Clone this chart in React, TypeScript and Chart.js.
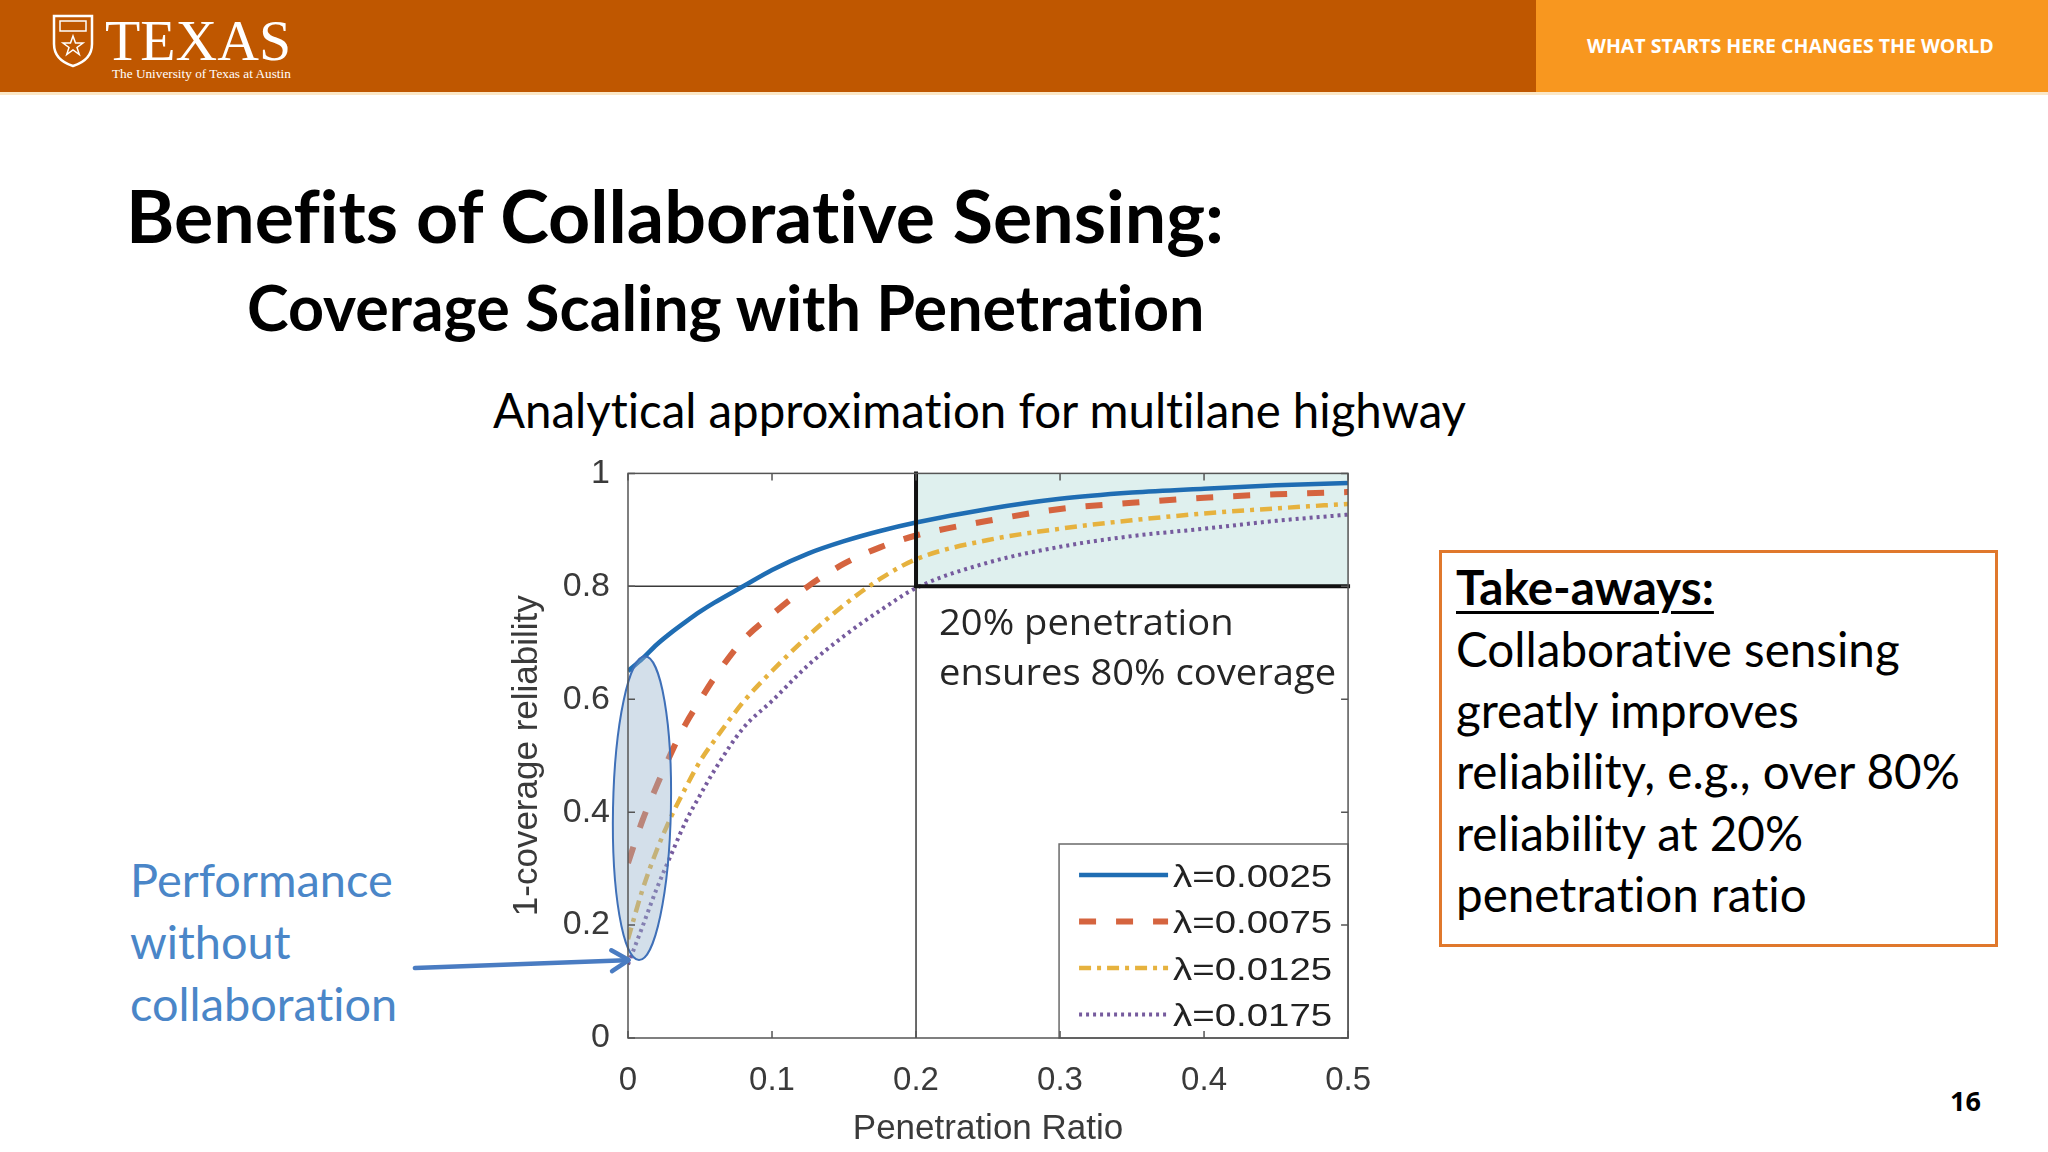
import React, { useEffect, useRef } from 'react';
import { Chart, registerables } from 'chart.js';

Chart.register(...registerables);

// ---------------- data ----------------
const PENETRATION = [0, 0.01, 0.02, 0.03, 0.04, 0.05, 0.06, 0.08, 0.1, 0.125, 0.15, 0.175, 0.2, 0.25, 0.3, 0.35, 0.4, 0.45, 0.5];
const LAMBDA_0025 = [0.65, 0.672, 0.697, 0.718, 0.737, 0.755, 0.771, 0.8, 0.829, 0.858, 0.88, 0.898, 0.913, 0.937, 0.955, 0.966, 0.973, 0.979, 0.983];
const LAMBDA_0075 = [0.31, 0.385, 0.447, 0.505, 0.556, 0.598, 0.638, 0.705, 0.75, 0.8, 0.84, 0.869, 0.89, 0.916, 0.937, 0.948, 0.957, 0.963, 0.967];
const LAMBDA_0125 = [0.175, 0.262, 0.333, 0.392, 0.443, 0.49, 0.527, 0.595, 0.65, 0.712, 0.767, 0.813, 0.848, 0.882, 0.902, 0.917, 0.929, 0.938, 0.946];
const LAMBDA_0175 = [0.13, 0.197, 0.265, 0.325, 0.383, 0.43, 0.474, 0.549, 0.597, 0.66, 0.712, 0.757, 0.797, 0.842, 0.87, 0.889, 0.902, 0.916, 0.927];
const SERIES_LABELS = ['λ=0.0025', 'λ=0.0075', 'λ=0.0125', 'λ=0.0175'];
const X_TICK_LABELS = ['0', '0.1', '0.2', '0.3', '0.4', '0.5'];
const Y_TICK_LABELS = ['0', '0.2', '0.4', '0.6', '0.8', '1'];
const X_TITLE = 'Penetration Ratio';
const Y_TITLE = '1-coverage reliability';

// highlighted region (penetration >= 20%, reliability >= 80%)
const REGION_X = [0.2, 0.5];
const REGION_Y = [0.8, 1];
const NOTE_LINES = ['20% penetration', 'ensures 80% coverage'];
const NOTE_ANCHOR = [0.216, 0.713, 0.625]; // x, baseline y of line 1, baseline y of line 2
// "no collaboration" callout (data coordinates)
const ELLIPSE = { cx: 0.0097, cy: 0.407, rx: 0.0201, ry: 0.269 };
const ARROW_FROM = [-0.148, 0.124];
const ARROW_TO = [0.0005, 0.138];

// ---------------- styles ----------------
const SERIES_STYLE = [
  { color: '#1F6DB3', width: 4.5, dash: [] as number[] },
  { color: '#D5643F', width: 6, dash: [17, 20] },
  { color: '#E6B23E', width: 4.5, dash: [12, 6, 4, 6] },
  { color: '#765B9E', width: 4, dash: [3, 4] },
];
const AXIS_TEXT = '#3a3a3a';
const AXIS_FONT = 'Liberation Sans';

let measureCtx: CanvasRenderingContext2D | null = null;
function measure(text: string, font: string) {
  if (!measureCtx) measureCtx = document.createElement('canvas').getContext('2d');
  measureCtx!.font = font;
  return measureCtx!.measureText(text);
}
function fitSize(text: string, family: string, weight: number, width: number) {
  const m = measure(text, `${weight} 100px ${family}`);
  return (100 * width) / m.width;
}

type LineProps = {
  text: string; left: number; baseline: number; size: number; family: string;
  weight?: number; color?: string; underline?: boolean;
};
function TextLine({ text, left, baseline, size, family, weight = 400, color = '#000', underline }: LineProps) {
  const m = measure(text, `${weight} 100px ${family}`);
  const asc = ((m as any).fontBoundingBoxAscent ?? 92) * size / 100;
  const desc = ((m as any).fontBoundingBoxDescent ?? 24) * size / 100;
  const lh = size;
  const top = baseline - ((lh - asc - desc) / 2 + asc);
  return (
    <div
      style={{
        position: 'absolute', left, top, fontFamily: family, fontWeight: weight, fontSize: size,
        lineHeight: `${lh}px`, color, whiteSpace: 'nowrap', fontVariantLigatures: 'none',
        textDecoration: underline ? 'underline' : undefined,
        textDecorationThickness: underline ? Math.max(2, size * 0.06) : undefined,
        textUnderlineOffset: underline ? size * 0.12 : undefined,
      }}
    >
      {text}
    </div>
  );
}

const overlayPlugin = {
  id: 'slideOverlay',
  beforeDatasetsDraw(chart: any) {
    const { ctx, chartArea: a, scales: { x, y } } = chart;
    const x0 = x.getPixelForValue(REGION_X[0]);
    const x1 = x.getPixelForValue(REGION_X[1]);
    const y0 = y.getPixelForValue(REGION_Y[0]);
    const y1 = y.getPixelForValue(REGION_Y[1]);
    ctx.save();
    ctx.fillStyle = '#DFF0EE';
    ctx.fillRect(x0, y1, x1 - x0, y0 - y1);
    ctx.strokeStyle = '#3a3a3a';
    ctx.lineWidth = 1.5;
    ctx.beginPath();
    ctx.moveTo(x0, a.bottom); ctx.lineTo(x0, y0);
    ctx.moveTo(a.left, y0); ctx.lineTo(x0, y0);
    ctx.stroke();
    ctx.restore();
  },
  afterDatasetsDraw(chart: any) {
    const { ctx, chartArea: a, scales: { x, y } } = chart;
    ctx.save();
    // thick frame of the region
    const x0 = x.getPixelForValue(REGION_X[0]);
    const x1 = x.getPixelForValue(REGION_X[1]);
    const y0 = y.getPixelForValue(REGION_Y[0]);
    const y1 = y.getPixelForValue(REGION_Y[1]);
    ctx.strokeStyle = '#111';
    ctx.lineWidth = 4;
    ctx.lineCap = 'square';
    ctx.beginPath();
    ctx.moveTo(x0, y1); ctx.lineTo(x0, y0); ctx.lineTo(x1, y0);
    ctx.stroke();

    // note text
    ctx.fillStyle = '#262626';
    ctx.font = `400 36px "Open Sans"`;
    ctx.textBaseline = 'alphabetic';
    ctx.textAlign = 'left';
    const nx = x.getPixelForValue(NOTE_ANCHOR[0]);
    const w = ctx.measureText(NOTE_LINES[1]).width;
    const sx = 397 / w;
    NOTE_LINES.forEach((t, i) => {
      ctx.save();
      ctx.translate(nx, y.getPixelForValue(NOTE_ANCHOR[1 + i]));
      ctx.scale(sx, 1);
      ctx.fillText(t, 0, 0);
      ctx.restore();
    });

    // legend box (bottom-right corner of the plot)
    const lw = 289, lh = 194;
    const lx = a.right - lw, ly = a.bottom - lh;
    ctx.fillStyle = '#fff';
    ctx.fillRect(lx, ly, lw, lh);
    ctx.strokeStyle = '#6a6a6a';
    ctx.lineWidth = 1.5;
    ctx.strokeRect(lx, ly, lw, lh);
    chart.data.datasets.forEach((ds: any, i: number) => {
      const cy = ly + 31 + i * 46.5;
      ctx.save();
      ctx.strokeStyle = ds.borderColor;
      ctx.lineWidth = ds.borderWidth;
      ctx.setLineDash(ds.borderDash || []);
      ctx.lineCap = 'butt';
      ctx.beginPath();
      ctx.moveTo(lx + 20, cy); ctx.lineTo(lx + 109, cy);
      ctx.stroke();
      ctx.restore();
      ctx.save();
      ctx.fillStyle = '#222';
      ctx.font = `400 32px "${AXIS_FONT}"`;
      ctx.textBaseline = 'middle';
      ctx.translate(lx + 114, cy + 3);
      ctx.scale(1.2, 1);
      ctx.fillText(ds.label, 0, 0);
      ctx.restore();
    });

    // callout ellipse
    const ecx = x.getPixelForValue(ELLIPSE.cx);
    const ecy = y.getPixelForValue(ELLIPSE.cy);
    const erx = x.getPixelForValue(ELLIPSE.cx + ELLIPSE.rx) - ecx;
    const ery = ecy - y.getPixelForValue(ELLIPSE.cy + ELLIPSE.ry);
    ctx.beginPath();
    ctx.ellipse(ecx, ecy, erx, ery, 0.02, 0, Math.PI * 2);
    ctx.fillStyle = 'rgba(150,178,206,0.42)';
    ctx.fill();
    ctx.strokeStyle = '#3F70B8';
    ctx.lineWidth = 2;
    ctx.stroke();
    ctx.restore();
  },
  afterDraw(chart: any) {
    const { ctx, chartArea: a, scales: { x, y } } = chart;
    ctx.save();
    // axes box
    ctx.strokeStyle = '#555';
    ctx.lineWidth = 1.5;
    ctx.strokeRect(a.left, a.top, a.right - a.left, a.bottom - a.top);
    // inward ticks
    ctx.beginPath();
    x.ticks.forEach((t: any) => {
      const px = x.getPixelForValue(t.value);
      ctx.moveTo(px, a.bottom); ctx.lineTo(px, a.bottom - 7);
      ctx.moveTo(px, a.top); ctx.lineTo(px, a.top + 7);
    });
    y.ticks.forEach((t: any) => {
      const py = y.getPixelForValue(t.value);
      ctx.moveTo(a.left, py); ctx.lineTo(a.left + 7, py);
      ctx.moveTo(a.right, py); ctx.lineTo(a.right - 7, py);
    });
    ctx.stroke();

    // arrow
    const sx = x.getPixelForValue(ARROW_FROM[0]);
    const sy = y.getPixelForValue(ARROW_FROM[1]);
    const ex = x.getPixelForValue(ARROW_TO[0]);
    const ey = y.getPixelForValue(ARROW_TO[1]);
    const ang = Math.atan2(ey - sy, ex - sx);
    ctx.strokeStyle = '#4A7CC2';
    ctx.lineWidth = 4.5;
    ctx.lineCap = 'round';
    ctx.lineJoin = 'round';
    ctx.beginPath();
    ctx.moveTo(sx, sy); ctx.lineTo(ex - 3 * Math.cos(ang), ey - 3 * Math.sin(ang));
    ctx.stroke();
    ctx.beginPath();
    const hl = 20, hw = 0.55;
    ctx.moveTo(ex - hl * Math.cos(ang - hw), ey - hl * Math.sin(ang - hw));
    ctx.lineTo(ex, ey);
    ctx.lineTo(ex - hl * Math.cos(ang + hw), ey - hl * Math.sin(ang + hw));
    ctx.stroke();
    ctx.restore();
  },
};

function ChartBlock() {
  const ref = useRef<HTMLCanvasElement>(null);
  useEffect(() => {
    const seriesData = [LAMBDA_0025, LAMBDA_0075, LAMBDA_0125, LAMBDA_0175];
    const chart = new Chart(ref.current!, {
      type: 'line',
      data: {
        datasets: seriesData.map((vals, i) => ({
          label: SERIES_LABELS[i],
          data: PENETRATION.map((p, j) => ({ x: p, y: vals[j] })),
          borderColor: SERIES_STYLE[i].color,
          borderWidth: SERIES_STYLE[i].width,
          borderDash: SERIES_STYLE[i].dash,
          pointRadius: 0,
          fill: false,
          cubicInterpolationMode: 'monotone',
          borderCapStyle: 'butt',
        })),
      },
      options: {
        animation: false,
        responsive: false,
        devicePixelRatio: 1,
        layout: { padding: { left: 70, top: 0, right: 0, bottom: 0 } },
        plugins: { legend: { display: false }, tooltip: { enabled: false } },
        scales: {
          x: {
            type: 'linear', min: 0, max: 0.5,
            afterFit: (s: any) => { s.height = 112; },
            grid: { display: false, drawTicks: false },
            border: { display: false },
            ticks: {
              stepSize: 0.1, padding: 23, color: AXIS_TEXT, maxRotation: 0,
              font: { family: AXIS_FONT, size: 33 },
              callback: (_v: any, i: number) => X_TICK_LABELS[i],
            },
            title: {
              display: true, text: X_TITLE, color: AXIS_TEXT,
              font: { family: AXIS_FONT, size: 35 }, padding: { top: 0, bottom: 0 },
            },
          },
          y: {
            type: 'linear', min: 0, max: 1,
            afterFit: (s: any) => { s.width = 158; },
            grid: { display: false, drawTicks: false },
            border: { display: false },
            ticks: {
              stepSize: 0.2, padding: 18, color: AXIS_TEXT,
              font: { family: AXIS_FONT, size: 34 },
              callback: (_v: any, i: number) => Y_TICK_LABELS[i],
            },
            title: {
              display: true, text: Y_TITLE, color: AXIS_TEXT,
              font: { family: AXIS_FONT, size: 35 }, padding: { top: 36, bottom: 0 },
            },
          },
        },
      } as any,
      plugins: [overlayPlugin],
    });
    return () => chart.destroy();
  }, []);
  return (
    <canvas ref={ref} width={994} height={715}
      style={{ position: 'absolute', left: 400, top: 435, width: 994, height: 715 }} />
  );
}

function Shield() {
  return (
    <svg width={42} height={54} viewBox="0 0 42 54" style={{ position: 'absolute', left: 52, top: 14 }}>
      <path d="M2 2 H40 V30 Q40 46 21 52 Q2 46 2 30 Z" fill="none" stroke="#fff" strokeWidth={2.5} />
      <rect x={8} y={7} width={26} height={10} fill="none" stroke="#fff" strokeWidth={1.5} />
      <path d="M21 22 L23.5 29 L31 29 L25 33.5 L27.3 40.5 L21 36 L14.7 40.5 L17 33.5 L11 29 L18.5 29 Z" fill="none" stroke="#fff" strokeWidth={1.5} />
    </svg>
  );
}

export default function App() {
  const LATO = 'Lato';
  const titleSize = fitSize('Benefits of Collaborative Sensing:', LATO, 700, 1100);
  const subSize = fitSize('Coverage Scaling with Penetration', LATO, 700, 960);
  const anaSize = fitSize('Analytical approximation for multilane highway', LATO, 400, 977);
  const takeSize = fitSize('reliability, e.g., over 80%', LATO, 400, 505);
  const perfSize = fitSize('collaboration', LATO, 400, 268);
  const texasSize = fitSize('TEXAS', 'Liberation Serif', 400, 186);
  const univSize = fitSize('The University of Texas at Austin', 'Liberation Serif', 400, 180);
  const wsSize = fitSize('WHAT STARTS HERE CHANGES THE WORLD', 'Open Sans', 700, 407);
  const takeLines = ['Collaborative sensing', 'greatly improves', 'reliability, e.g., over 80%', 'reliability at 20%', 'penetration ratio'];
  const perfLines = ['Performance', 'without', 'collaboration'];

  return (
    <div style={{ position: 'fixed', left: 0, top: 0, width: 2048, height: 1152, overflow: 'hidden', background: '#fff' }}>
      {/* header */}
      <div style={{ position: 'absolute', left: 0, top: 0, width: 1536, height: 92, background: '#BF5700' }} />
      <div style={{ position: 'absolute', left: 1536, top: 0, width: 512, height: 92, background: '#F8971F' }} />
      <div style={{ position: 'absolute', left: 0, top: 92, width: 2048, height: 3, background: '#FBE7C6' }} />
      <Shield />
      <TextLine text="TEXAS" left={105} baseline={60} size={texasSize} family="Liberation Serif" color="#fff" />
      <TextLine text="The University of Texas at Austin" left={112} baseline={78} size={univSize} family="Liberation Serif" color="#fff" />
      <TextLine text="WHAT STARTS HERE CHANGES THE WORLD" left={1587} baseline={53} size={wsSize} family="Open Sans" weight={700} color="#fff" />

      {/* titles */}
      <TextLine text="Benefits of Collaborative Sensing:" left={126} baseline={243} size={titleSize} family={LATO} weight={700} />
      <TextLine text="Coverage Scaling with Penetration" left={247} baseline={332} size={subSize} family={LATO} weight={700} />
      <TextLine text="Analytical approximation for multilane highway" left={493} baseline={428} size={anaSize} family={LATO} />

      <ChartBlock />

      {/* left callout text */}
      {perfLines.map((t, i) => (
        <TextLine key={t} text={t} left={130} baseline={898 + i * 61.8} size={perfSize} family={LATO} color="#4A86C8" />
      ))}

      {/* take-aways box */}
      <div style={{ position: 'absolute', left: 1439, top: 550, width: 559 - 6, height: 397 - 6, border: '3px solid #E0782C' }} />
      <TextLine text="Take-aways:" left={1456} baseline={605} size={takeSize} family={LATO} weight={700} underline />
      {takeLines.map((t, i) => (
        <TextLine key={t} text={t} left={1456} baseline={667 + i * 61.3} size={takeSize} family={LATO} />
      ))}

      <TextLine text="16" left={1950} baseline={1111} size={27} family="Open Sans" weight={700} />
    </div>
  );
}
